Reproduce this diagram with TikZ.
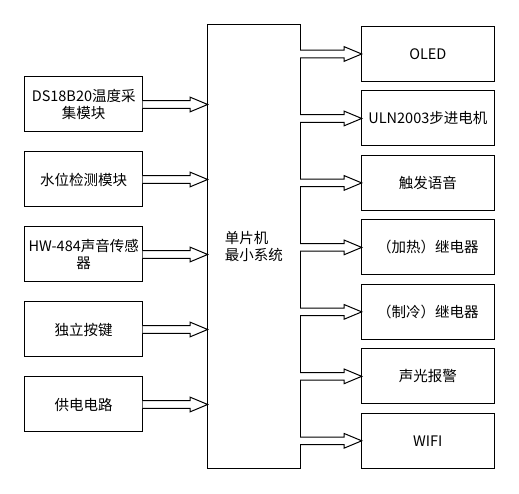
\documentclass[tikz,border=0pt]{standalone}
\usepackage{fontspec}
\setmainfont{Noto Sans CJK SC}
\usetikzlibrary{positioning,calc}

% hollow block arrow from #1 to #2 (same height)
\newcommand{\fatarrow}[2]{%
  \draw[fatline] ($#1+(0,3.8)$) -- ($#2+(-17.5,3.8)$) -- ($#2+(-17.5,7.3)$) -- #2
    -- ($#2+(-17.5,-7.3)$) -- ($#2+(-17.5,-3.8)$) -- ($#1+(0,-3.8)$);}

\begin{document}
\begin{tikzpicture}[x=1pt, y=1pt,
    box/.style={draw, line width=1pt, outer sep=0pt, inner sep=2pt, align=center,
      minimum height=55pt, font=\fontsize{14.5pt}{17.5pt}\selectfont},
    inbox/.style={box, minimum width=118pt, text width=112pt},
    outbox/.style={box, minimum width=132.3pt, text width=126pt},
    fatline/.style={line width=1pt, fill=white}]
  \useasboundingbox (0,0) rectangle (519,494);

  \node[box, minimum width=92.3pt, minimum height=443.6pt, align=left] (mcu) at (253.85,247.5)
    {单片机\\最小系统};

  % inputs
  \node[inbox] (temp) at (83.7,389.5) {DS18B20温度采\\集模块};
  \node[inbox, below=20pt of temp] (water) {水位检测模块};
  \node[inbox, below=20pt of water] (sound) {HW-484声音传感\\器};
  \node[inbox, below=20pt of sound] (keys) {独立按键};
  \node[inbox, below=20pt of keys] (power) {供电电路};

  % outputs
  \node[outbox] (oled) at (427.85,440) {OLED};
  \node[outbox, below=9.47pt of oled] (motor) {ULN2003步进电机};
  \node[outbox, below=9.47pt of motor] (voice) {触发语音};
  \node[outbox, below=9.47pt of voice] (heat) {（加热）继电器};
  \node[outbox, below=9.47pt of heat] (cool) {（制冷）继电器};
  \node[outbox, below=9.47pt of cool] (alarm) {声光报警};
  \node[outbox, below=9.47pt of alarm] (wifi) {WIFI};

  \foreach \n in {temp,water,sound,keys,power}
    \fatarrow{(\n.east)}{(mcu.west |- \n.east)};
  \foreach \n in {oled,motor,voice,heat,cool,alarm,wifi}
    \fatarrow{(mcu.east |- \n.west)}{(\n.west)};
\end{tikzpicture}
\end{document}
